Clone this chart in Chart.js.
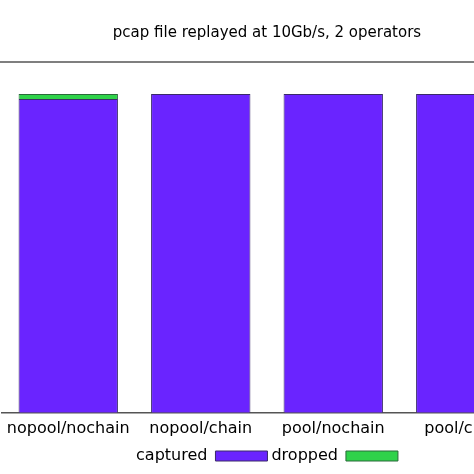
<!DOCTYPE html>
<html><head><meta charset="utf-8">
<script src="https://cdn.jsdelivr.net/npm/chart.js@4"></script>
<style>html,body{margin:0;padding:0;overflow:hidden;background:#fff}#w{width:536px;height:474px;position:relative}</style>
</head><body><div id="w"><canvas id="c"></canvas></div>
<script>
const categories = ["nopool/nochain","nopool/chain","pool/nochain","pool/chain"];
const captured = [98.4, 100, 100, 100];
const dropped = [1.6, 0, 0, 0];
const F = "'DejaVu Sans', sans-serif";
const topLine = {id:'topLine',afterDraw(c){const a=c.chartArea,x=c.ctx;x.save();x.strokeStyle='#555';x.lineWidth=1.5;x.beginPath();x.moveTo(0,a.top);x.lineTo(c.width,a.top);x.stroke();x.restore();}};
new Chart(document.getElementById('c'),{
 type:'bar',
 data:{labels:categories,datasets:[
  {label:'captured',data:captured,backgroundColor:'#6a24ff',borderColor:'#3a2a6a',borderWidth:1,categoryPercentage:0.75,barPercentage:1},
  {label:'dropped',data:dropped,backgroundColor:'#2fd24a',borderColor:'#2a6a3a',borderWidth:1,categoryPercentage:0.75,barPercentage:1}
 ]},
 options:{responsive:true,maintainAspectRatio:false,animation:false,
  layout:{padding:{left:2,right:4,top:0,bottom:0}},
  plugins:{
   title:{display:true,text:'pcap file replayed at 10Gb/s, 2 operators',color:'#000',font:{family:F,size:15,weight:'normal'},padding:{top:24,bottom:20}},
   legend:{position:'bottom',rtl:true,reverse:true,textDirection:'ltr',labels:{color:'#000',boxWidth:52,boxHeight:10,padding:4,font:{family:F,size:16}}},
   tooltip:{enabled:false}},
  scales:{
   x:{stacked:true,grid:{display:false,drawTicks:false},border:{display:true,color:'#555',width:1.5},ticks:{color:'#000',padding:6,maxRotation:0,autoSkip:false,font:{family:F,size:16}}},
   y:{stacked:true,display:false,min:0,max:110}
  }}
 ,plugins:[topLine]});
</script></body></html>
